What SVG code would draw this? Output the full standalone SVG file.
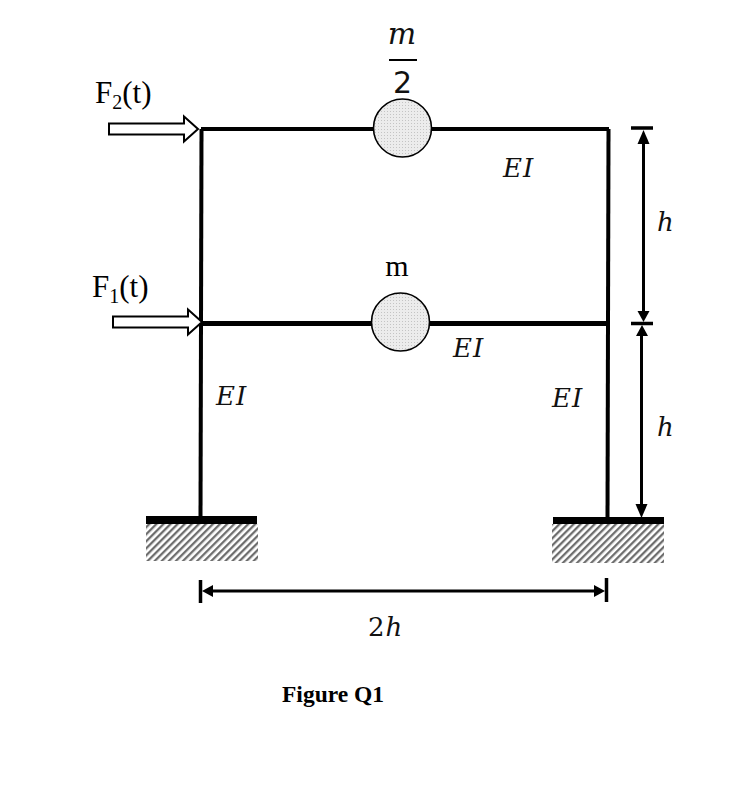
<svg xmlns="http://www.w3.org/2000/svg" width="743" height="787" viewBox="0 0 743 787">
<style>
.beam{stroke:#000;stroke-width:4;fill:none}
.thick{stroke-width:5}
.dim{stroke:#000;stroke-width:3;fill:none}
.tick{stroke:#000;stroke-width:3.5;fill:none}
.head{fill:#000;stroke:none}
.base{fill:#000}
.hatch{fill:url(#hatch)}
.mass{fill:url(#dots);stroke:#000;stroke-width:1.6}
.force{fill:#fff;stroke:#000;stroke-width:2}
.t{font-family:"Liberation Serif",serif;font-size:31px;fill:#000}
.m{font-family:"DejaVu Serif","Liberation Serif",serif;font-style:italic;font-size:26px;fill:#111}
.sub{font-size:20px}
</style>
<defs>
<pattern id="hatch" width="5" height="5" patternUnits="userSpaceOnUse" patternTransform="rotate(45)"><rect width="5" height="5" fill="#fff"/><rect width="2.300" height="5" fill="#6e6e6e"/></pattern>
<pattern id="dots" width="3" height="3" patternUnits="userSpaceOnUse"><rect width="3" height="3" fill="#ececec"/><rect width="1" height="1" fill="#c4c4c4"/></pattern>
</defs>
<rect width="743" height="787" fill="#fff"/>
<g id="connectors">
<path class="beam" d="M201 129H609"/>
<path class="beam thick" d="M202 323.500H609"/>
<path class="beam" d="M201.500 129L200.500 518"/>
<path class="beam" d="M608.500 129L607.500 518"/>
<path class="dim" d="M643.500 135V312"/>
<path class="dim" d="M641.500 335V512"/>
<path class="dim" d="M210 591H598"/>
<path class="tick" d="M631 128H653M631 323.500H653M200.500 580V603M606.500 578V602"/>
<path class="head" d="M643.500 130L637.500 144H649.500Z"/>
<path class="head" d="M643.500 322L637.500 311H649.500Z"/>
<path class="head" d="M642 325L636 336H648Z"/>
<path class="head" d="M641.500 518L635.500 504H647.500Z"/>
<path class="head" d="M202 591L213 585V597Z"/>
<path class="head" d="M605 591L594 585V597Z"/>
<path class="force" d="M109 123.500H184V116.500L198 129L184 141.500V134.500H109Z"/>
<path class="force" d="M113 316.500H188V309.500L202 322L188 334.500V327.500H113Z"/>
</g>
<g id="mass-top"><circle class="mass" cx="402.500" cy="128" r="29"/><text class="m" x="402" y="44" text-anchor="middle" font-size="30" style="font-size:30px">m</text><path d="M389 60H417" stroke="#000" stroke-width="2"/><text x="402.500" y="93" text-anchor="middle" font-family="DejaVu Sans,sans-serif" font-size="30" fill="#111">2</text></g>
<g id="mass-mid"><circle class="mass" cx="400.500" cy="322" r="29"/><text class="t" x="397" y="276" text-anchor="middle" style="font-size:30px">m</text></g>
<g id="support-left"><rect class="hatch" x="146" y="524" width="112" height="37"/><rect class="base" x="146" y="516" width="111" height="8"/></g>
<g id="support-right"><rect class="hatch" x="552" y="524" width="112" height="39"/><rect class="base" x="553" y="517" width="111" height="7"/></g>
<g id="labels">
<text class="t" x="95" y="103">F<tspan class="sub" dy="6">2</tspan><tspan dy="-6">(t)</tspan></text>
<text class="t" x="92" y="297">F<tspan class="sub" dy="6">1</tspan><tspan dy="-6">(t)</tspan></text>
<text class="m" x="503" y="177" letter-spacing="1">EI</text>
<text class="m" x="453" y="357" letter-spacing="1">EI</text>
<text class="m" x="216" y="405" letter-spacing="1">EI</text>
<text class="m" x="552" y="407" letter-spacing="1">EI</text>
<text class="m" x="657" y="231">h</text>
<text class="m" x="657" y="436">h</text>
<text class="m" x="368" y="636" letter-spacing="1"><tspan font-style="normal">2</tspan>h</text>
<text x="282" y="702" font-family="Liberation Serif,serif" font-weight="bold" font-size="23.500" fill="#000">Figure Q1</text>
</g>
</svg>
